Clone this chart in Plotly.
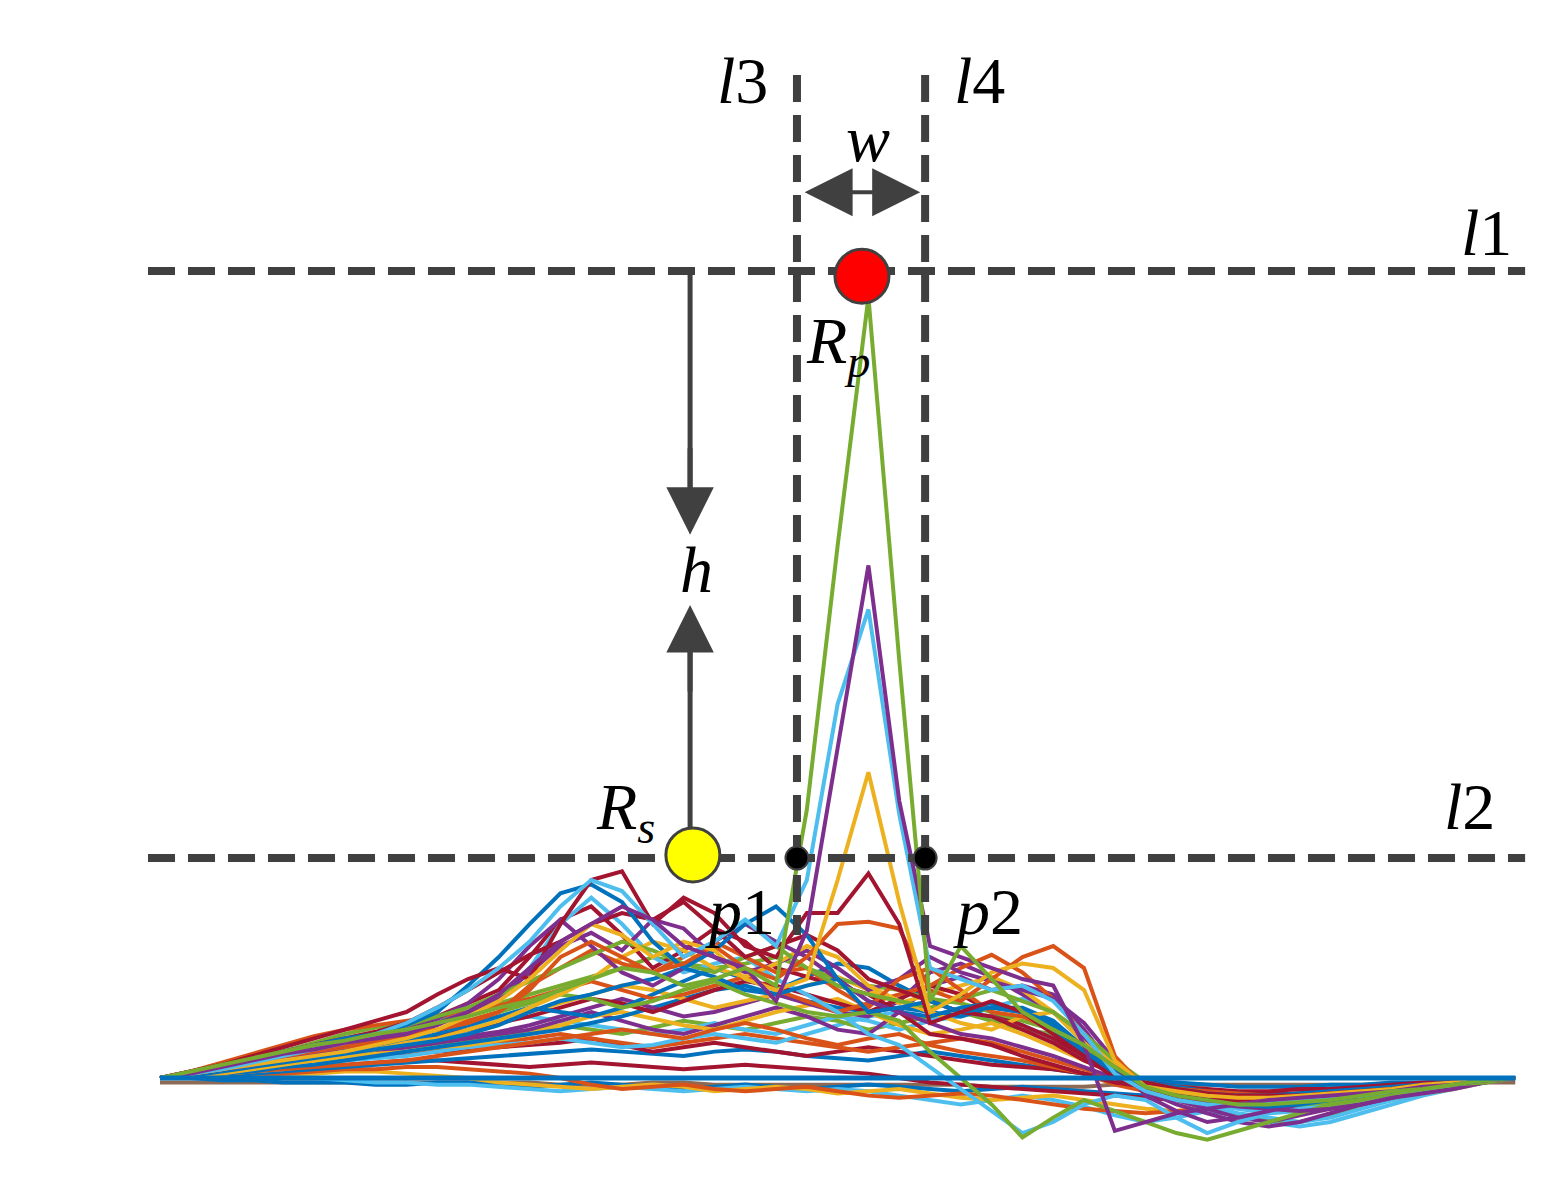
import plotly.graph_objects as go

# sample index of the waveforms (time axis)
T = list(range(45))

# waveform amplitudes, l2 level = 1.0
S01 = [0, 0.02, 0.05, 0.08, 0.12, 0.15, 0.18, 0.2, 0.24, 0.3,
       0.42, 0.55, 0.7, 0.84, 0.88, 0.8, 0.62, 0.5, 0.58, 0.7,
       0.78, 0.65, 0.45, 0.3, 0.32, 0.35, 0.3, 0.32, 0.3, 0.25,
       0.12, 0.02, -0.05, -0.08, -0.1, -0.12, -0.13, -0.12, -0.1, -0.08,
       -0.06, -0.04, -0.03, -0.01, 0]
S02 = [0, 0.02, 0.04, 0.07, 0.1, 0.12, 0.15, 0.17, 0.2, 0.22,
       0.26, 0.3, 0.4, 0.55, 0.62, 0.55, 0.48, 0.52, 0.6, 0.5,
       0.45, 0.55, 0.7, 0.71, 0.68, 0.4, 0.35, 0.45, 0.55, 0.6,
       0.5, 0.1, -0.05, -0.08, -0.1, -0.1, -0.1, -0.09, -0.08, -0.07,
       -0.05, -0.04, -0.02, -0.01, 0]
S03 = [0, 0.02, 0.04, 0.06, 0.08, 0.1, 0.12, 0.15, 0.18, 0.22,
       0.28, 0.35, 0.45, 0.58, 0.7, 0.65, 0.55, 0.62, 0.58, 0.45,
       0.4, 0.45, 0.9, 1.39, 0.8, 0.3, 0.38, 0.48, 0.52, 0.5,
       0.4, 0.08, -0.04, -0.06, -0.08, -0.09, -0.09, -0.08, -0.07, -0.06,
       -0.05, -0.03, -0.02, -0.01, 0]
S04 = [0, 0.02, 0.05, 0.08, 0.11, 0.13, 0.16, 0.18, 0.2, 0.25,
       0.3, 0.38, 0.5, 0.62, 0.7, 0.78, 0.72, 0.6, 0.55, 0.5,
       0.35, 0.67, 1.5, 2.33, 1.26, 0.6, 0.55, 0.5, 0.45, 0.42,
       0.15, -0.24, -0.2, -0.16, -0.14, -0.12, -0.1, -0.09, -0.08, -0.07,
       -0.06, -0.04, -0.03, -0.01, 0]
S05 = [0, 0.03, 0.06, 0.09, 0.12, 0.15, 0.17, 0.2, 0.22, 0.25,
       0.28, 0.32, 0.35, 0.4, 0.45, 0.5, 0.48, 0.42, 0.45, 0.5,
       0.42, 1.22, 2.42, 3.55, 1.9, 0.35, 0.6, 0.45, 0.3, 0.22,
       0.15, 0.05, -0.04, -0.08, -0.1, -0.12, -0.12, -0.11, -0.1, -0.08,
       -0.06, -0.05, -0.03, -0.01, 0]
S06 = [0, 0.02, 0.04, 0.07, 0.1, 0.13, 0.16, 0.2, 0.25, 0.32,
       0.4, 0.5, 0.62, 0.78, 0.9, 0.85, 0.7, 0.55, 0.62, 0.72,
       0.6, 0.9, 1.7, 2.13, 1.2, 0.5, 0.45, 0.4, 0.42, 0.35,
       0.2, 0.02, -0.06, -0.1, -0.12, -0.12, -0.11, -0.1, -0.09, -0.08,
       -0.06, -0.05, -0.03, -0.01, 0]
S07 = [0, 0.03, 0.06, 0.1, 0.14, 0.18, 0.22, 0.26, 0.3, 0.38,
       0.45, 0.5, 0.45, 0.7, 0.9, 0.94, 0.7, 0.82, 0.75, 0.6,
       0.55, 0.75, 0.75, 0.93, 0.7, 0.25, 0.3, 0.35, 0.3, 0.2,
       0.1, 0.0, -0.05, -0.08, -0.1, -0.1, -0.09, -0.08, -0.07, -0.06,
       -0.05, -0.04, -0.02, -0.01, 0]
S08 = [0, 0.01, 0.03, 0.05, 0.07, 0.09, 0.11, 0.13, 0.15, 0.17,
       0.2, 0.24, 0.3, 0.35, 0.38, 0.42, 0.45, 0.5, 0.46, 0.4,
       0.38, 0.42, 0.45, 0.35, 0.3, 0.28, 0.32, 0.34, 0.3, 0.22,
       0.12, 0.04, -0.02, -0.05, -0.07, -0.08, -0.08, -0.07, -0.06, -0.05,
       -0.04, -0.03, -0.02, -0.01, 0]
S09 = [0, 0.02, 0.04, 0.06, 0.09, 0.12, 0.14, 0.16, 0.19, 0.22,
       0.25, 0.3, 0.42, 0.5, 0.58, 0.52, 0.48, 0.55, 0.62, 0.55,
       0.48, 0.5, 0.4, 0.32, 0.45, 0.5, 0.4, 0.3, 0.28, 0.22,
       0.15, 0.05, -0.02, -0.05, -0.06, -0.07, -0.08, -0.08, -0.07, -0.06,
       -0.05, -0.04, -0.02, -0.01, 0]
S10 = [0, 0.01, 0.02, 0.04, 0.06, 0.08, 0.1, 0.13, 0.16, 0.18,
       0.22, 0.26, 0.32, 0.38, 0.45, 0.55, 0.62, 0.58, 0.5, 0.46,
       0.52, 0.6, 0.55, 0.42, 0.35, 0.3, 0.25, 0.22, 0.28, 0.3,
       0.2, 0.06, -0.03, -0.05, -0.07, -0.08, -0.09, -0.1, -0.09, -0.08,
       -0.06, -0.04, -0.03, -0.01, 0]
S11 = [0, 0.02, 0.04, 0.06, 0.08, 0.11, 0.14, 0.17, 0.2, 0.24,
       0.3, 0.36, 0.48, 0.6, 0.66, 0.58, 0.72, 0.68, 0.55, 0.48,
       0.52, 0.58, 0.5, 0.4, 0.45, 0.55, 0.48, 0.44, 0.4, 0.36,
       0.25, 0.08, -0.08, -0.15, -0.2, -0.18, -0.15, -0.12, -0.1, -0.08,
       -0.06, -0.05, -0.03, -0.01, 0]
S12 = [0, 0.02, 0.05, 0.08, 0.1, 0.12, 0.14, 0.16, 0.19, 0.22,
       0.26, 0.3, 0.34, 0.38, 0.36, 0.32, 0.35, 0.4, 0.44, 0.38,
       0.34, 0.3, 0.28, 0.3, 0.26, 0.12, 0.0, -0.12, -0.27, -0.18,
       -0.1, -0.15, -0.2, -0.25, -0.28, -0.24, -0.2, -0.16, -0.12, -0.1,
       -0.07, -0.05, -0.03, -0.01, 0]
S13 = [0, 0.01, 0.03, 0.05, 0.07, 0.1, 0.13, 0.16, 0.2, 0.25,
       0.3, 0.36, 0.5, 0.7, 0.82, 0.7, 0.55, 0.48, 0.52, 0.55,
       0.45, 0.38, 0.3, 0.2, 0.15, 0.05, -0.05, -0.15, -0.25, -0.2,
       -0.12, -0.08, -0.1, -0.18, -0.25, -0.2, -0.16, -0.14, -0.12, -0.1,
       -0.07, -0.05, -0.03, -0.01, 0]
S14 = [0, 0.02, 0.04, 0.07, 0.1, 0.13, 0.16, 0.2, 0.24, 0.28,
       0.34, 0.4, 0.55, 0.72, 0.78, 0.65, 0.5, 0.58, 0.68, 0.62,
       0.5, 0.46, 0.42, 0.38, 0.3, 0.2, 0.18, 0.15, 0.1, 0.06,
       0.02, -0.02, -0.04, -0.06, -0.07, -0.08, -0.08, -0.07, -0.06, -0.05,
       -0.04, -0.03, -0.02, -0.01, 0]
S15 = [0, 0.01, 0.02, 0.03, 0.05, 0.06, 0.08, 0.1, 0.12, 0.14,
       0.16, 0.18, 0.2, 0.22, 0.25, 0.28, 0.32, 0.36, 0.4, 0.42,
       0.38, 0.35, 0.32, 0.3, 0.32, 0.3, 0.28, 0.32, 0.32, 0.26,
       0.14, 0.03, -0.02, -0.04, -0.06, -0.07, -0.08, -0.08, -0.07, -0.06,
       -0.05, -0.04, -0.02, -0.01, 0]
S16 = [0, 0.01, 0.02, 0.03, 0.04, 0.05, 0.06, 0.07, 0.08, 0.1,
       0.12, 0.14, 0.16, 0.18, 0.2, 0.22, 0.2, 0.18, 0.22, 0.25,
       0.22, 0.18, 0.15, 0.18, 0.2, 0.15, 0.12, 0.1, 0.08, 0.05,
       0.02, -0.03, -0.06, -0.08, -0.1, -0.11, -0.12, -0.11, -0.1, -0.08,
       -0.06, -0.04, -0.03, -0.01, 0]
S17 = [0, 0.01, 0.02, 0.03, 0.05, 0.07, 0.09, 0.11, 0.12, 0.14,
       0.15, 0.17, 0.2, 0.24, 0.28, 0.3, 0.27, 0.24, 0.22, 0.26,
       0.3, 0.33, 0.36, 0.3, 0.24, 0.2, 0.22, 0.25, 0.2, 0.14,
       0.08, 0.02, -0.03, -0.06, -0.08, -0.1, -0.12, -0.13, -0.12, -0.1,
       -0.08, -0.06, -0.04, -0.02, 0]
S18 = [0, 0.01, 0.02, 0.04, 0.06, 0.08, 0.1, 0.12, 0.14, 0.16,
       0.18, 0.2, 0.22, 0.26, 0.3, 0.26, 0.22, 0.2, 0.24, 0.28,
       0.32, 0.28, 0.22, 0.2, 0.3, 0.42, 0.46, 0.4, 0.42, 0.38,
       0.22, 0.04, -0.05, -0.1, -0.14, -0.18, -0.2, -0.17, -0.14, -0.11,
       -0.08, -0.06, -0.04, -0.02, 0]
S19 = [0, 0.01, 0.03, 0.05, 0.07, 0.09, 0.11, 0.12, 0.14, 0.15,
       0.17, 0.19, 0.21, 0.24, 0.22, 0.2, 0.23, 0.26, 0.24, 0.22,
       0.25, 0.28, 0.26, 0.22, 0.25, 0.28, 0.3, 0.26, 0.22, 0.2,
       0.12, 0.02, -0.06, -0.1, -0.14, -0.17, -0.19, -0.2, -0.17, -0.13,
       -0.1, -0.07, -0.04, -0.02, 0]
S20 = [0, 0.01, 0.02, 0.03, 0.04, 0.06, 0.08, 0.09, 0.1, 0.12,
       0.14, 0.15, 0.16, 0.18, 0.16, 0.14, 0.15, 0.18, 0.2, 0.18,
       0.16, 0.2, 0.24, 0.28, 0.3, 0.26, 0.28, 0.32, 0.36, 0.3,
       0.16, 0.04, -0.04, -0.08, -0.12, -0.14, -0.16, -0.15, -0.13, -0.11,
       -0.08, -0.06, -0.04, -0.02, 0]
S21 = [0, 0.01, 0.02, 0.03, 0.05, 0.07, 0.09, 0.1, 0.11, 0.12,
       0.13, 0.14, 0.15, 0.16, 0.18, 0.15, 0.12, 0.14, 0.16, 0.14,
       0.12, 0.1, 0.12, 0.14, 0.12, 0.1, 0.08, 0.06, 0.05, 0.04,
       0.02, 0.0, -0.02, -0.04, -0.05, -0.06, -0.06, -0.05, -0.05, -0.04,
       -0.03, -0.02, -0.02, -0.01, 0]
S22 = [0, 0.0, 0.01, 0.02, 0.03, 0.04, 0.05, 0.06, 0.07, 0.08,
       0.09, 0.1, 0.11, 0.12, 0.13, 0.12, 0.11, 0.1, 0.12, 0.13,
       0.12, 0.1, 0.09, 0.08, 0.1, 0.12, 0.1, 0.08, 0.06, 0.04,
       0.02, 0.0, -0.01, -0.02, -0.03, -0.04, -0.04, -0.04, -0.03, -0.03,
       -0.02, -0.02, -0.01, -0.01, 0]
S23 = [0, 0.0, 0.01, 0.02, 0.02, 0.03, 0.04, 0.04, 0.05, 0.05,
       0.04, 0.03, 0.02, 0.0, -0.03, -0.05, -0.04, -0.03, -0.05, -0.06,
       -0.05, -0.04, -0.06, -0.08, -0.09, -0.08, -0.07, -0.08, -0.1, -0.12,
       -0.14, -0.15, -0.16, -0.15, -0.14, -0.13, -0.12, -0.12, -0.11, -0.1,
       -0.08, -0.06, -0.04, -0.02, 0]
S24 = [0, 0.0, 0.01, 0.01, 0.02, 0.02, 0.03, 0.03, 0.02, 0.01,
       0.0, -0.02, -0.03, -0.04, -0.05, -0.04, -0.03, -0.04, -0.06, -0.05,
       -0.04, -0.05, -0.07, -0.06, -0.05, -0.07, -0.09, -0.1, -0.09, -0.08,
       -0.1, -0.12, -0.14, -0.15, -0.14, -0.13, -0.14, -0.15, -0.13, -0.11,
       -0.09, -0.07, -0.05, -0.02, 0]
S25 = [0, 0.0, 0.0, 0.01, 0.01, 0.0, -0.01, -0.02, -0.02, -0.03,
       -0.03, -0.04, -0.05, -0.06, -0.05, -0.04, -0.05, -0.06, -0.05, -0.04,
       -0.05, -0.06, -0.05, -0.06, -0.08, -0.1, -0.12, -0.1, -0.08, -0.1,
       -0.13, -0.17, -0.2, -0.18, -0.15, -0.17, -0.2, -0.22, -0.2, -0.16,
       -0.12, -0.08, -0.05, -0.02, 0]
S26 = [0, 0.02, 0.04, 0.06, 0.09, 0.12, 0.15, 0.18, 0.22, 0.27,
       0.34, 0.45, 0.6, 0.72, 0.6, 0.48, 0.42, 0.5, 0.62, 0.7,
       0.62, 0.55, 0.45, 0.35, 0.3, 0.25, 0.2, 0.18, 0.14, 0.1,
       0.05, 0.0, -0.05, -0.08, -0.11, -0.13, -0.14, -0.15, -0.14, -0.12,
       -0.09, -0.07, -0.05, -0.02, 0]
S27 = [0, 0.02, 0.04, 0.07, 0.1, 0.13, 0.16, 0.2, 0.24, 0.28,
       0.32, 0.38, 0.44, 0.5, 0.56, 0.62, 0.58, 0.52, 0.48, 0.55,
       0.6, 0.5, 0.42, 0.38, 0.35, 0.32, 0.36, 0.4, 0.35, 0.3,
       0.2, 0.08, -0.02, -0.06, -0.08, -0.1, -0.11, -0.12, -0.11, -0.09,
       -0.07, -0.05, -0.03, -0.02, 0]
S28 = [0, 0.03, 0.06, 0.09, 0.12, 0.15, 0.18, 0.21, 0.25, 0.32,
       0.4, 0.48, 0.56, 0.62, 0.7, 0.75, 0.72, 0.8, 0.68, 0.55,
       0.6, 0.65, 0.58, 0.45, 0.4, 0.35, 0.3, 0.28, 0.22, 0.16,
       0.08, 0.02, -0.02, -0.05, -0.07, -0.08, -0.08, -0.08, -0.07, -0.06,
       -0.05, -0.03, -0.02, -0.01, 0]
S29 = [0, 0.03, 0.07, 0.11, 0.15, 0.19, 0.22, 0.24, 0.26, 0.28,
       0.3, 0.33, 0.36, 0.4, 0.44, 0.4, 0.36, 0.38, 0.42, 0.46,
       0.4, 0.35, 0.3, 0.34, 0.38, 0.42, 0.5, 0.56, 0.48, 0.36,
       0.2, 0.05, -0.03, -0.06, -0.08, -0.1, -0.1, -0.09, -0.08, -0.07,
       -0.05, -0.04, -0.02, -0.01, 0]
S30 = [0, 0.02, 0.05, 0.08, 0.12, 0.16, 0.2, 0.23, 0.25, 0.27,
       0.3, 0.34, 0.38, 0.42, 0.46, 0.5, 0.55, 0.52, 0.5, 0.52,
       0.55, 0.5, 0.45, 0.42, 0.4, 0.36, 0.34, 0.3, 0.26, 0.22,
       0.14, 0.04, -0.03, -0.07, -0.1, -0.12, -0.14, -0.15, -0.13, -0.1,
       -0.08, -0.06, -0.04, -0.02, 0]
S31 = [0, 0.02, 0.04, 0.06, 0.08, 0.1, 0.12, 0.14, 0.17, 0.2,
       0.24, 0.28, 0.32, 0.3, 0.28, 0.32, 0.38, 0.44, 0.5, 0.45,
       0.4, 0.46, 0.52, 0.5, 0.42, 0.35, 0.3, 0.32, 0.3, 0.24,
       0.12, 0.02, -0.04, -0.07, -0.09, -0.11, -0.12, -0.12, -0.11, -0.09,
       -0.07, -0.05, -0.03, -0.01, 0]
S32 = [0, 0.02, 0.04, 0.06, 0.08, 0.1, 0.12, 0.14, 0.16, 0.19,
       0.22, 0.25, 0.28, 0.32, 0.36, 0.34, 0.3, 0.35, 0.4, 0.44,
       0.42, 0.38, 0.34, 0.3, 0.36, 0.42, 0.38, 0.3, 0.24, 0.18,
       0.1, 0.02, -0.03, -0.05, -0.06, -0.07, -0.07, -0.07, -0.06, -0.05,
       -0.04, -0.03, -0.02, -0.01, 0]
S33 = [0, 0.01, 0.03, 0.05, 0.08, 0.11, 0.14, 0.17, 0.2, 0.22,
       0.24, 0.26, 0.28, 0.26, 0.24, 0.22, 0.2, 0.22, 0.25, 0.22,
       0.2, 0.24, 0.28, 0.26, 0.22, 0.26, 0.3, 0.28, 0.24, 0.18,
       0.1, 0.02, -0.05, -0.09, -0.13, -0.16, -0.18, -0.2, -0.18, -0.14,
       -0.1, -0.07, -0.04, -0.02, 0]
S34 = [0, 0.02, 0.04, 0.07, 0.1, 0.13, 0.16, 0.18, 0.2, 0.22,
       0.25, 0.28, 0.3, 0.34, 0.38, 0.42, 0.4, 0.36, 0.32, 0.35,
       0.38, 0.42, 0.46, 0.4, 0.34, 0.38, 0.42, 0.46, 0.4, 0.3,
       0.16, 0.04, -0.03, -0.06, -0.08, -0.1, -0.11, -0.11, -0.1, -0.08,
       -0.06, -0.05, -0.03, -0.01, 0]
S35 = [0, 0.02, 0.03, 0.05, 0.07, 0.09, 0.11, 0.13, 0.15, 0.17,
       0.19, 0.21, 0.24, 0.28, 0.32, 0.36, 0.32, 0.28, 0.3, 0.34,
       0.38, 0.34, 0.3, 0.28, 0.35, 0.48, 0.52, 0.46, 0.38, 0.3,
       0.18, 0.04, -0.06, -0.12, -0.16, -0.2, -0.22, -0.2, -0.16, -0.12,
       -0.09, -0.06, -0.04, -0.02, 0]
S36 = [0, 0.01, 0.03, 0.05, 0.07, 0.09, 0.1, 0.11, 0.12, 0.13,
       0.14, 0.16, 0.18, 0.2, 0.18, 0.16, 0.14, 0.16, 0.18, 0.2,
       0.18, 0.16, 0.14, 0.12, 0.14, 0.16, 0.18, 0.16, 0.12, 0.08,
       0.04, 0.0, -0.03, -0.05, -0.07, -0.08, -0.09, -0.1, -0.09, -0.08,
       -0.06, -0.04, -0.03, -0.01, 0]
S37 = [0, 0.01, 0.02, 0.03, 0.04, 0.05, 0.06, 0.07, 0.08, 0.08,
       0.07, 0.06, 0.05, 0.06, 0.07, 0.06, 0.05, 0.04, 0.05, 0.06,
       0.05, 0.04, 0.03, 0.02, 0.0, -0.02, -0.03, -0.04, -0.05, -0.06,
       -0.07, -0.08, -0.09, -0.1, -0.1, -0.1, -0.09, -0.09, -0.08, -0.07,
       -0.06, -0.04, -0.03, -0.01, 0]
S38 = [0, 0.0, -0.01, -0.01, -0.02, -0.02, -0.02, -0.03, -0.03, -0.02,
       -0.02, -0.03, -0.04, -0.03, -0.02, -0.03, -0.04, -0.05, -0.04, -0.03,
       -0.04, -0.05, -0.04, -0.03, -0.04, -0.05, -0.06, -0.05, -0.04, -0.05,
       -0.06, -0.07, -0.08, -0.09, -0.1, -0.1, -0.1, -0.09, -0.08, -0.07,
       -0.06, -0.04, -0.03, -0.01, 0]
S39 = [-0.02, -0.02, -0.02, -0.02, -0.02, -0.02, -0.02, -0.02, -0.02, -0.02,
       -0.02, -0.02, -0.02, -0.03, -0.03, -0.03, -0.02, -0.02, -0.03, -0.03,
       -0.03, -0.03, -0.03, -0.03, -0.03, -0.03, -0.03, -0.04, -0.04, -0.04,
       -0.04, -0.03, -0.03, -0.03, -0.03, -0.03, -0.03, -0.03, -0.03, -0.03,
       -0.03, -0.03, -0.02, -0.02, -0.02]
BASE = [0] * 45

# low / background curves first, peak curves last
SERIES = [S39, S38, S37, S25, S24, S23, S22, S21, S36, S20, S19, S33, S18,
          S17, S16, S15, S35, S34, S32, S31, S30, S29, S14, S13, S12, S11,
          S10, S09, S08, S26, S27, S28, S01, S02, S07, S03, S06, S04, S05]
COLORS = ['#8C6A55', '#0072BD', '#A2142F', '#4DBEEE', '#EDB120', '#D95319',
          '#0072BD', '#A2142F', '#D95319', '#4DBEEE', '#77AC30', '#4DBEEE',
          '#7E2F8E', '#EDB120', '#D95319', '#0072BD', '#7E2F8E', '#EDB120',
          '#A2142F', '#0072BD', '#77AC30', '#D95319', '#A2142F', '#4DBEEE',
          '#77AC30', '#7E2F8E', '#EDB120', '#D95319', '#0072BD', '#7E2F8E',
          '#77AC30', '#A2142F', '#0072BD', '#D95319', '#A2142F', '#EDB120',
          '#4DBEEE', '#7E2F8E', '#77AC30']

# schematic construction (same units: sample index / amplitude)
L1_AMP = 3.668
L2_AMP = 1.0
L3_T = 20.68
L4_T = 24.84
HLINE_T = [-0.39, 44.32]
VLINE_AMP = [4.56, 0.65]
RP = (22.79, 3.645)
RS = (17.3, 1.014)
P1 = (L3_T, L2_AMP)
P2 = (L4_T, L2_AMP)
H_T = 17.21
H_DOWN = (L1_AMP, 2.47)
H_UP = (1.12, 2.15)
W_AMP = 4.027
W_T = [20.88, 24.68]

LABELS = ['<i>l</i>3', '<i>l</i>4', '<i>w</i>', '<i>l</i>1', '<i>l</i>2',
          '<i>R</i><sub><i>p</i></sub>', '<i>R</i><sub><i>s</i></sub>',
          '<i>h</i>', '<i>p</i>1', '<i>p</i>2']
LABEL_T = [18.9, 26.62, 22.99, 43.08, 42.53, 22.02, 15.1, 17.43, 18.83, 26.88]
LABEL_AMP = [4.536, 4.536, 4.27, 3.845, 1.236, 3.33, 1.21, 2.31, 0.755, 0.755]

DASH_COLOR = '#404040'
DASH = '27px,13px'

fig = go.Figure()

for s, c in zip(SERIES, COLORS):
    fig.add_trace(go.Scatter(x=T, y=s, mode='lines',
                             line=dict(color=c, width=4)))

fig.add_trace(go.Scatter(x=T, y=BASE, mode='lines',
                         line=dict(color='#0072BD', width=5)))

# dashed guide lines
for amp in [L1_AMP, L2_AMP]:
    fig.add_trace(go.Scatter(x=HLINE_T, y=[amp, amp], mode='lines',
                             line=dict(color=DASH_COLOR, width=8, dash=DASH)))
for t in [L3_T, L4_T]:
    fig.add_trace(go.Scatter(x=[t, t], y=VLINE_AMP, mode='lines',
                             line=dict(color=DASH_COLOR, width=8, dash=DASH)))

# h arrow shafts
fig.add_trace(go.Scatter(x=[H_T, H_T], y=[H_DOWN[0], H_DOWN[1] + 0.15], mode='lines',
                         line=dict(color=DASH_COLOR, width=5)))
fig.add_trace(go.Scatter(x=[H_T, H_T], y=[H_UP[0], H_UP[1] - 0.15], mode='lines',
                         line=dict(color=DASH_COLOR, width=5)))

# points
fig.add_trace(go.Scatter(x=[RP[0]], y=[RP[1]], mode='markers',
                         marker=dict(color='#FF0000', size=54,
                                     line=dict(color=DASH_COLOR, width=3))))
fig.add_trace(go.Scatter(x=[RS[0]], y=[RS[1]], mode='markers',
                         marker=dict(color='#FFFF00', size=54,
                                     line=dict(color=DASH_COLOR, width=3))))
fig.add_trace(go.Scatter(x=[P1[0], P2[0]], y=[P1[1], P2[1]], mode='markers',
                         marker=dict(color='#000000', size=23,
                                     line=dict(color=DASH_COLOR, width=2))))

# arrow heads
arrow = dict(showarrow=True, arrowhead=2, arrowcolor=DASH_COLOR, text='',
             axref='x', ayref='y', xref='x', yref='y')
fig.add_annotation(x=H_T, y=H_DOWN[1], ax=H_T, ay=H_DOWN[1] + 0.4,
                   arrowsize=1.9, arrowwidth=5, **arrow)
fig.add_annotation(x=H_T, y=H_UP[1], ax=H_T, ay=H_UP[1] - 0.4,
                   arrowsize=1.9, arrowwidth=5, **arrow)
fig.add_annotation(x=W_T[1], y=W_AMP, ax=W_T[0], ay=W_AMP,
                   arrowside='end+start', arrowsize=2.4, arrowwidth=4, **arrow)

for txt, t, a in zip(LABELS, LABEL_T, LABEL_AMP):
    fig.add_annotation(x=t, y=a, text=txt, showarrow=False,
                       font=dict(family='Liberation Serif', size=66, color='black'))

# page body adds an 8px offset, so the figure covers the picture from 8px on
fig.update_layout(
    width=1555, height=1182,
    margin=dict(l=0, r=0, t=0, b=0),
    paper_bgcolor='white', plot_bgcolor='white',
    showlegend=False,
    xaxis=dict(visible=False, range=[-4.935, 45.55]),
    yaxis=dict(visible=False, range=[-0.509, 4.864]),
)

fig.write_html("out.html")
